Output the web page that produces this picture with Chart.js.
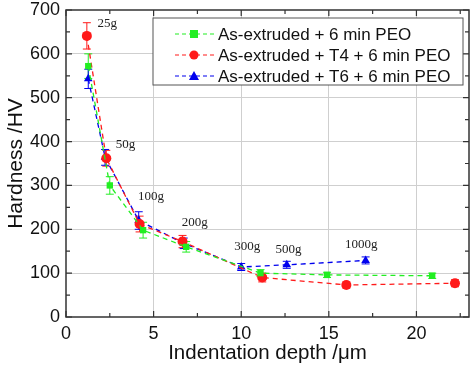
<!DOCTYPE html>
<html>
<head>
<meta charset="utf-8">
<script src="https://cdn.jsdelivr.net/npm/chart.js@4.4.0/dist/chart.umd.min.js"></script>
<style>
  html, body { margin: 0; padding: 0; background: #fff; }
  #wrap { width: 474px; height: 370px; }
</style>
</head>
<body>
<div id="wrap"><canvas id="chart" width="474" height="370"></canvas></div>
<script>
// Series
const seriesNames = ['As-extruded + 6 min PEO', 'As-extruded + T4 + 6 min PEO', 'As-extruded + T6 + 6 min PEO'];

const greenDepth = [1.27, 2.5, 4.4, 6.86, 11.1, 14.9, 20.9];
const greenHardness = [572, 300, 198, 160, 100, 96, 94];
const greenError = [28, 20, 18, 12, 8, 6, 6];

const redDepth = [1.19, 2.3, 4.2, 6.65, 11.2, 16.0, 22.2];
const redHardness = [641, 362, 212, 172, 90, 73, 77];
const redError = [30, 18, 18, 14, 10, 7, 8];

const blueDepth = [1.27, 2.23, 4.15, 6.72, 10.0, 12.6, 17.1];
const blueHardness = [543, 364, 220, 168, 114, 119, 129];
const blueError = [22, 18, 20, 12, 8, 8, 8];

// load annotations: label, x, y (data units)
const loadLabels = ['25g', '50g', '100g', '200g', '300g', '500g', '1000g'];
const loadX = [2.35, 3.4, 4.85, 7.35, 10.35, 12.7, 16.85];
const loadY = [668, 393, 275, 216, 160, 154, 166];

const xTicks = [0, 5, 10, 15, 20];

function toPoints(xs, ys) {
    return xs.map((x, i) => ({ x: x, y: ys[i] }));
}

const colors = ['#22ee22', '#ff1a1a', '#0000ee'];
const markers = ['rect', 'circle', 'triangle'];
const errors = [greenError, redError, blueError];

// error bars, inside ticks, custom legend and load labels
const decorPlugin = {
    id: 'decor',
    beforeDatasetsDraw(chart) {
        const ctx = chart.ctx;
        const xs = chart.scales.x, ys = chart.scales.y;
        ctx.save();
        chart.data.datasets.forEach((ds, di) => {
            ctx.strokeStyle = colors[di];
            ctx.lineWidth = 1;
            ds.data.forEach((p, i) => {
                const px = xs.getPixelForValue(p.x);
                const top = ys.getPixelForValue(p.y + errors[di][i]);
                const bot = ys.getPixelForValue(p.y - errors[di][i]);
                ctx.beginPath();
                ctx.moveTo(px, top); ctx.lineTo(px, bot);
                ctx.moveTo(px - 4, top); ctx.lineTo(px + 4, top);
                ctx.moveTo(px - 4, bot); ctx.lineTo(px + 4, bot);
                ctx.stroke();
            });
        });
        ctx.restore();
    },
    afterDraw(chart) {
        const ctx = chart.ctx;
        const a = chart.chartArea;
        const xs = chart.scales.x, ys = chart.scales.y;
        ctx.save();
        // frame
        ctx.strokeStyle = '#333';
        ctx.lineWidth = 1.5;
        ctx.strokeRect(a.left, a.top, a.right - a.left, a.bottom - a.top);
        // ticks, pointing inward
        ctx.lineWidth = 1.2;
        ctx.beginPath();
        for (let v = 0; v <= 23; v += 2.5) {
            const px = xs.getPixelForValue(v);
            const len = v % 5 === 0 ? 6 : 4;
            ctx.moveTo(px, a.bottom); ctx.lineTo(px, a.bottom - len);
            ctx.moveTo(px, a.top); ctx.lineTo(px, a.top + len);
        }
        for (let v = 0; v <= 700; v += 50) {
            const py = ys.getPixelForValue(v);
            const len = v % 100 === 0 ? 6 : 4;
            ctx.moveTo(a.left, py); ctx.lineTo(a.left + len, py);
            ctx.moveTo(a.right, py); ctx.lineTo(a.right - len, py);
        }
        ctx.stroke();
        // load labels
        ctx.fillStyle = '#222';
        ctx.font = '13px "Liberation Serif", "DejaVu Serif", serif';
        ctx.textAlign = 'center';
        ctx.textBaseline = 'middle';
        loadLabels.forEach((t, i) => {
            ctx.fillText(t, xs.getPixelForValue(loadX[i]), ys.getPixelForValue(loadY[i]));
        });
        // legend
        const lx = 153, ly = 18, lw = 310, lh = 67;
        ctx.fillStyle = '#fff';
        ctx.fillRect(lx, ly, lw, lh);
        ctx.strokeStyle = '#555';
        ctx.lineWidth = 1;
        ctx.strokeRect(lx, ly, lw, lh);
        ctx.font = '17px "Liberation Sans", Arial, sans-serif';
        ctx.textAlign = 'left';
        seriesNames.forEach((name, i) => {
            const cy = ly + 16 + i * 21;
            ctx.strokeStyle = colors[i];
            ctx.lineWidth = 1.2;
            ctx.setLineDash([4, 3]);
            ctx.beginPath();
            ctx.moveTo(lx + 22, cy); ctx.lineTo(lx + 61, cy);
            ctx.stroke();
            ctx.setLineDash([]);
            ctx.fillStyle = colors[i];
            const mx = lx + 41;
            ctx.beginPath();
            if (markers[i] === 'rect') ctx.rect(mx - 4, cy - 4, 8, 8);
            else if (markers[i] === 'circle') ctx.arc(mx, cy, 4.5, 0, Math.PI * 2);
            else { ctx.moveTo(mx, cy - 5); ctx.lineTo(mx + 5, cy + 4); ctx.lineTo(mx - 5, cy + 4); ctx.closePath(); }
            ctx.fill();
            ctx.fillStyle = '#111';
            ctx.fillText(name, lx + 65, cy + 1);
        });
        ctx.restore();
    }
};

new Chart(document.getElementById('chart'), {
    type: 'scatter',
    data: {
        datasets: [
            { label: seriesNames[0], data: toPoints(greenDepth, greenHardness), pointStyle: 'rect' },
            { label: seriesNames[1], data: toPoints(redDepth, redHardness), pointStyle: 'circle' },
            { label: seriesNames[2], data: toPoints(blueDepth, blueHardness), pointStyle: 'triangle' }
        ].map((ds, i) => Object.assign(ds, {
            showLine: true,
            borderColor: colors[i],
            backgroundColor: colors[i],
            pointBackgroundColor: colors[i],
            pointBorderColor: colors[i],
            borderWidth: 1.3,
            borderDash: [5, 4],
            pointRadius: i === 0 ? 4.5 : 5,
            pointBorderWidth: 0
        }))
    },
    options: {
        responsive: false,
        animation: false,
        layout: { padding: { top: 10, right: 3, left: 0, bottom: 0 } },
        plugins: { legend: { display: false }, tooltip: { enabled: false } },
        scales: {
            x: {
                type: 'linear', min: 0, max: 23,
                afterBuildTicks: s => { s.ticks = xTicks.map(v => ({ value: v })); },
                afterFit: s => { s.height = 53; s.paddingLeft = 0; s.paddingRight = 0; },
                border: { display: false },
                grid: { color: '#cfcfcf', borderDash: [2, 2], drawTicks: false,
                        lineWidth: c => (c.tick && (c.tick.value === 0) ? 0 : 1) },
                ticks: { color: '#111', padding: 6, font: { size: 18, family: '"Liberation Sans", Arial, sans-serif' } },
                title: { display: true, text: 'Indentation depth /μm', color: '#111', padding: { top: 2 },
                         font: { size: 20.5, family: '"Liberation Sans", Arial, sans-serif' } }
            },
            y: {
                type: 'linear', min: 0, max: 700,
                ticks: { stepSize: 100, color: '#111', padding: 6, font: { size: 18, family: '"Liberation Sans", Arial, sans-serif' } },
                afterFit: s => { s.width = 66; s.paddingTop = 0; s.paddingBottom = 0; },
                border: { display: false },
                grid: { color: '#cfcfcf', borderDash: [2, 2], drawTicks: false,
                        lineWidth: c => (c.tick && (c.tick.value === 0 || c.tick.value === 700) ? 0 : 1) },
                title: { display: true, text: 'Hardness /HV', color: '#111', padding: { bottom: 0 },
                         font: { size: 21, family: '"Liberation Sans", Arial, sans-serif' } }
            }
        }
    },
    plugins: [decorPlugin]
});
</script>
</body>
</html>
